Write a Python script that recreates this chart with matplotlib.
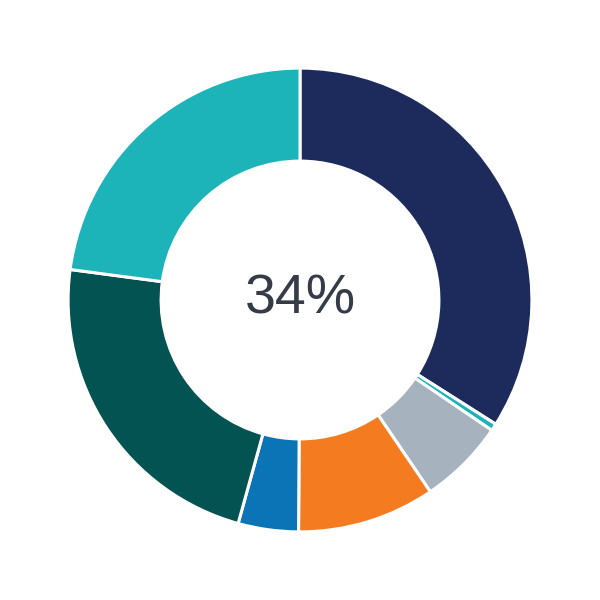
import matplotlib
matplotlib.use("Agg")
import matplotlib.pyplot as plt

# segment shares, clockwise from 12 o'clock
labels = ["Navy", "Teal sliver", "Gray", "Orange", "Blue", "Dark teal", "Light teal"]
shares = [34.0, 0.5, 6.0, 9.6, 4.2, 22.8, 22.9]
colors = ["#1c2b5b", "#1bb3b8", "#a7b2bf", "#f47b20", "#0a74b6", "#035352", "#1cb4b8"]
center_label = "34%"

fig = plt.figure(figsize=(6, 6), dpi=100)
ax = fig.add_axes([0, 0, 1, 1])

ax.pie(
    shares,
    colors=colors,
    startangle=90,
    counterclock=False,
    radius=0.773,
    wedgeprops=dict(width=0.31, edgecolor="white", linewidth=2.2),
)
ax.text(0, 0, center_label, ha="center", va="center",
        fontsize=40, color="#353b47", family=["Liberation Sans", "DejaVu Sans"])

ax.set_xlim(-1, 1)
ax.set_ylim(-1, 1)
ax.set_aspect("equal")
ax.axis("off")

fig.savefig("out.png", dpi=100, facecolor="white")
